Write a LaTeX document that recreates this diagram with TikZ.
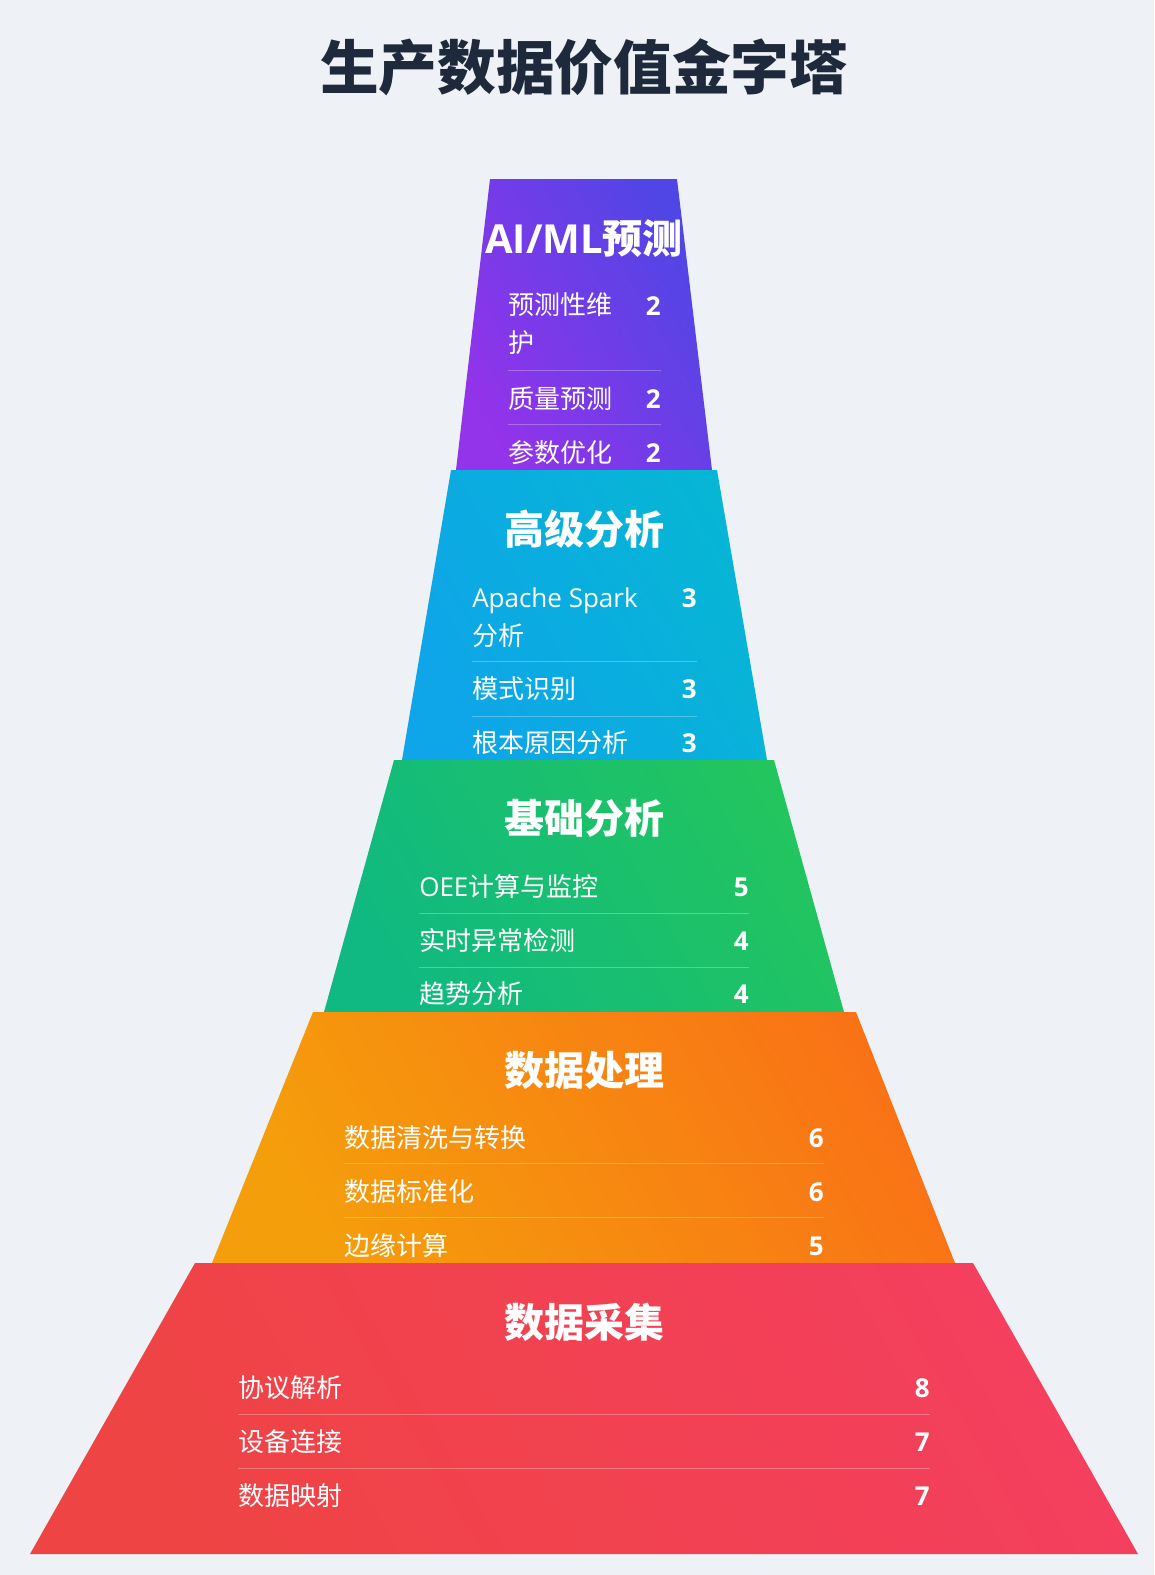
\documentclass[tikz,border=0pt]{standalone}
\usepackage{fontspec}
\setmainfont{Noto Sans CJK SC}
\newfontfamily\lat{Open Sans}
\definecolor{bg}{HTML}{EEF2F6}
\definecolor{ink}{HTML}{1E293B}
\definecolor{pA}{HTML}{9333EA}\definecolor{pB}{HTML}{4F46E5}
\definecolor{sA}{HTML}{0EA5E9}\definecolor{sB}{HTML}{06B6D4}
\definecolor{gA}{HTML}{10B981}\definecolor{gB}{HTML}{22C55E}
\definecolor{oA}{HTML}{F59E0B}\definecolor{oB}{HTML}{F97316}
\definecolor{rA}{HTML}{EF4444}\definecolor{rB}{HTML}{F43F5E}
\tikzset{
  ttl/.style={anchor=base, text=white, inner sep=0pt, font=\fontsize{30}{36}\selectfont\bfseries},
  item/.style={anchor=base west, text=white, inner sep=0pt, align=left, font=\fontsize{19.5}{28}\selectfont},
  num/.style={anchor=base east, text=white, inner sep=0pt, font=\lat\bfseries\fontsize{19.5}{24}\selectfont},
  sep/.style={draw=white, draw opacity=0.28, line width=0.75pt},
  layer/.style={shading angle=120}
}
\begin{document}
\begin{tikzpicture}[x=0.75pt,y=-0.75pt]
\fill[bg] (0,0) rectangle (1154,1575);
\useasboundingbox (0,0) rectangle (1154,1575);

\node[anchor=base, text=ink, inner sep=0pt, font=\fontsize{44}{52}\selectfont\bfseries] (title) at (584,89) {生产数据价值金字塔};

% layer 1
\shade[left color=pA, right color=pB, layer] (490,179) -- (677,179) -- (712,470) -- (456,470) -- cycle;
\node[ttl] (t1) at (584,253) {{\lat AI/ML}预测};
\node[item] (i11) at (508,352) {预测性维\\护};
\node[num] (n11) at (661,315) {2};
\draw[sep] (508,370) -- (661,370);
\node[item] (i12) at (508,408) {质量预测};
\node[num] (n12) at (661,408) {2};
\draw[sep] (508,424) -- (661,424);
\node[item] (i13) at (508,462) {参数优化};
\node[num] (n13) at (661,462) {2};

% layer 2
\shade[left color=sA, right color=sB, layer] (451,470) -- (717,470) -- (767,760) -- (402,760) -- cycle;
\node[ttl] (t2) at (584,544) {高级分析};
\node[item] (i21) at (472,645) {{\lat Apache Spark}\\分析};
\node[num] (n21) at (697,607) {3};
\draw[sep] (472,661) -- (697,661);
\node[item] (i22) at (472,698) {模式识别};
\node[num] (n22) at (697,698) {3};
\draw[sep] (472,716) -- (697,716);
\node[item] (i23) at (472,752) {根本原因分析};
\node[num] (n23) at (697,752) {3};

% layer 3
\shade[left color=gA, right color=gB, layer] (394,760) -- (774,760) -- (844,1012) -- (324,1012) -- cycle;
\node[ttl] (t3) at (584,833) {基础分析};
\node[item] (i31) at (419,896) {{\lat OEE}计算与监控};
\node[num] (n31) at (749,896) {5};
\draw[sep] (419,913) -- (749,913);
\node[item] (i32) at (419,950) {实时异常检测};
\node[num] (n32) at (749,950) {4};
\draw[sep] (419,967) -- (749,967);
\node[item] (i33) at (419,1003) {趋势分析};
\node[num] (n33) at (749,1003) {4};

% layer 4
\shade[left color=oA, right color=oB, layer] (313,1012) -- (856,1012) -- (955,1263) -- (212,1263) -- cycle;
\node[ttl] (t4) at (584,1085) {数据处理};
\node[item] (i41) at (344,1147) {数据清洗与转换};
\node[num] (n41) at (824,1147) {6};
\draw[sep] (344,1163) -- (824,1163);
\node[item] (i42) at (344,1201) {数据标准化};
\node[num] (n42) at (824,1201) {6};
\draw[sep] (344,1217) -- (824,1217);
\node[item] (i43) at (344,1255) {边缘计算};
\node[num] (n43) at (824,1255) {5};

% layer 5
\shade[left color=rA, right color=rB, layer] (195,1263) -- (973,1263) -- (1138,1554) -- (30,1554) -- cycle;
\node[ttl] (t5) at (584,1337) {数据采集};
\node[item] (i51) at (238,1397) {协议解析};
\node[num] (n51) at (930,1397) {8};
\draw[sep] (238,1414) -- (930,1414);
\node[item] (i52) at (238,1451) {设备连接};
\node[num] (n52) at (930,1451) {7};
\draw[sep] (238,1468) -- (930,1468);
\node[item] (i53) at (238,1505) {数据映射};
\node[num] (n53) at (930,1505) {7};
\end{tikzpicture}
\end{document}
